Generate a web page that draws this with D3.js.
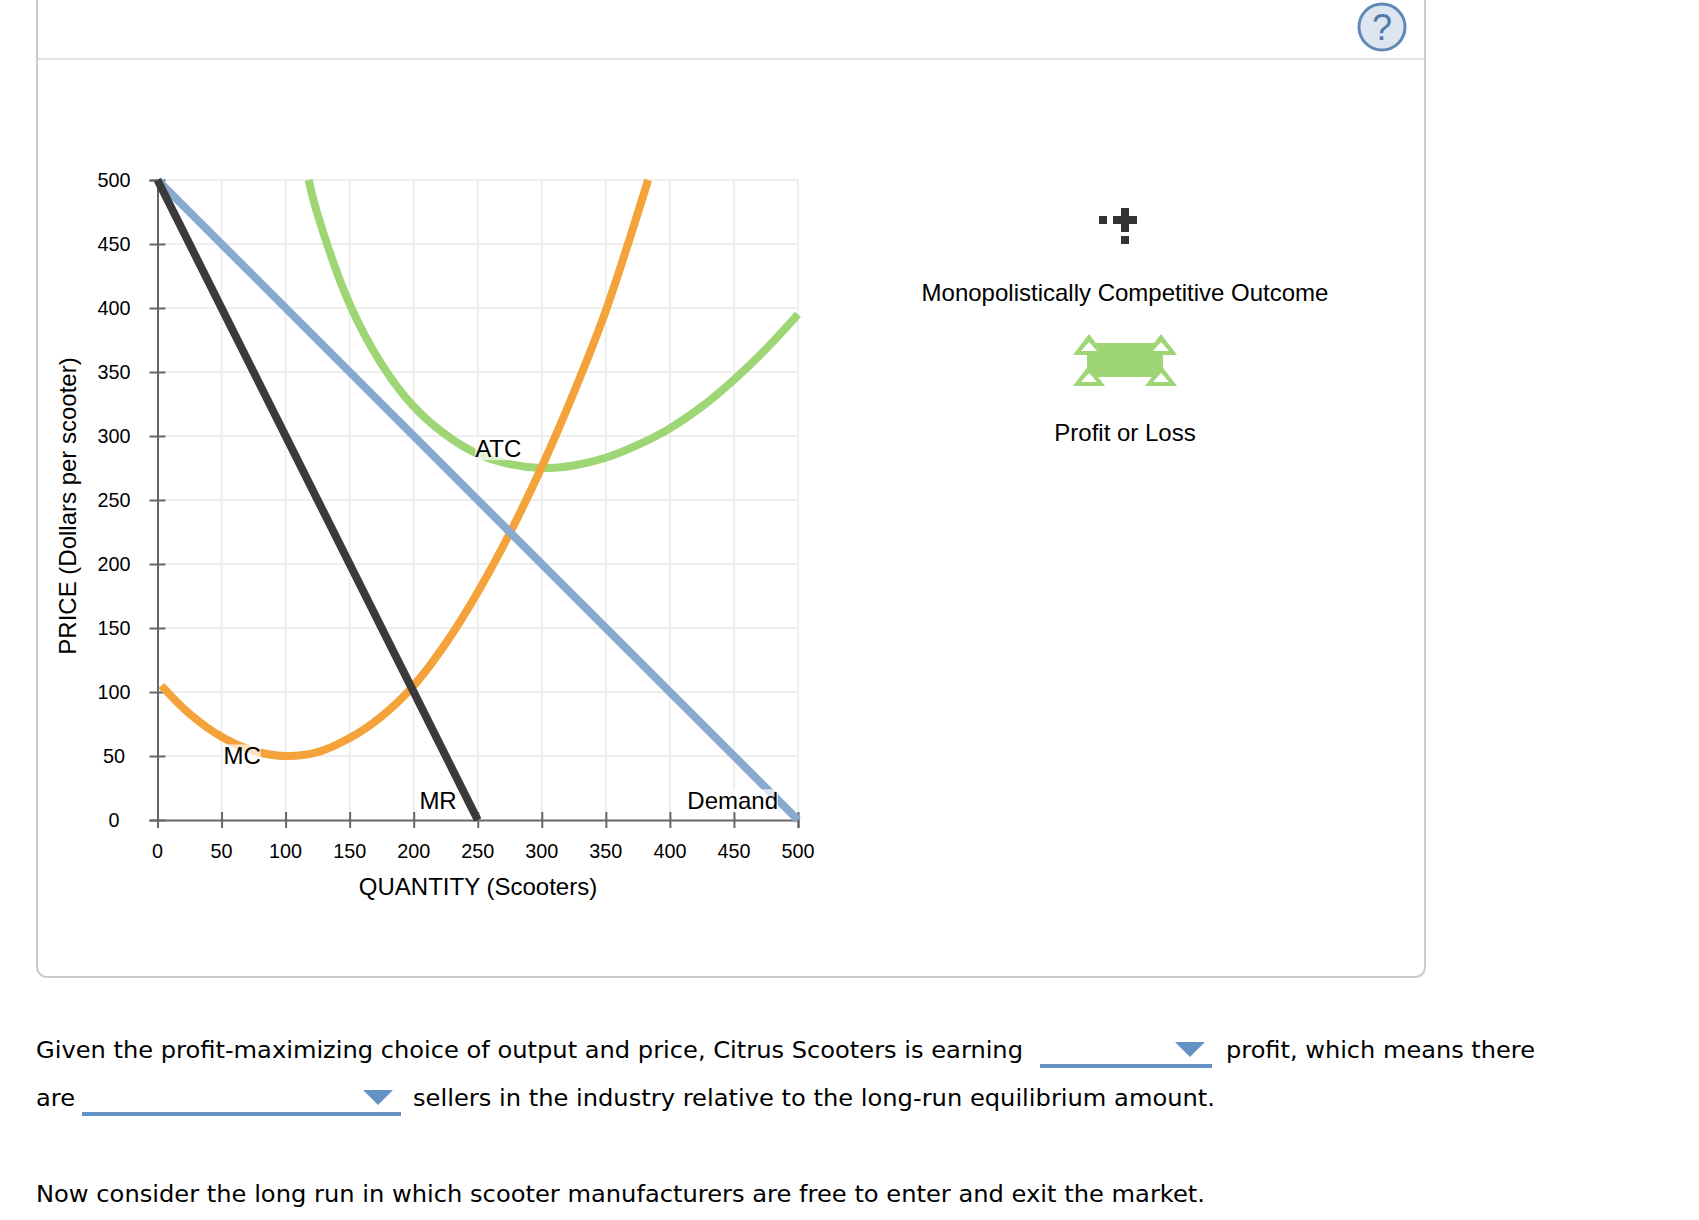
<!DOCTYPE html>
<html>
<head>
<meta charset="utf-8">
<script src="https://cdnjs.cloudflare.com/ajax/libs/d3/7.8.5/d3.min.js"></script>
<style>
  html, body { margin: 0; padding: 0; background: #fff; }
  svg { display: block; }
  text { font-family: "Liberation Sans", Arial, sans-serif; fill: #000; }
  .body-text { font-family: "DejaVu Sans", Verdana, sans-serif; font-size: 23.5px; }
</style>
</head>
<body>
<svg id="chart" width="1699" height="1220"></svg>
<script>
// ------------chart values----------
const ticks = [0, 50, 100, 150, 200, 250, 300, 350, 400, 450, 500];

const demandQ = [0, 500];
const demandP = [500, 0];

const mrQ = [0, 250];
const mrP = [500, 0];

const mcQ = [3, 25, 50, 75, 100, 125, 150, 175, 200, 225, 250, 275, 300, 325, 350, 383];
const mcP = [105, 83, 65, 54, 50, 53, 64, 81, 105, 138, 178, 224, 276, 334, 398, 500];

const atcQ = [118, 125, 150, 175, 200, 225, 250, 275, 300, 325, 350, 375, 400, 425, 450, 475, 500];
const atcP = [500, 473, 403, 356, 323, 301, 286, 278, 275, 277, 283, 293, 306, 323, 344, 368, 395];

const curveLabels = ["ATC", "MC", "MR", "Demand"];
const labelQ = [266, 66, 219, 449];
const labelP = [290, 50, 15, 15];

const legendLabels = ["Monopolistically Competitive Outcome", "Profit or Loss"];

const svg = d3.select("#chart");

// ------------panel----------
svg.append("rect")
  .attr("x", 37).attr("y", -12)
  .attr("width", 1388).attr("height", 989)
  .attr("rx", 10)
  .attr("fill", "#fff").attr("stroke", "#cccccc").attr("stroke-width", 2);

svg.append("line")
  .attr("x1", 38).attr("x2", 1424)
  .attr("y1", 59).attr("y2", 59)
  .attr("stroke", "#e2e2e2").attr("stroke-width", 2);

// ------------help icon----------
svg.append("circle")
  .attr("cx", 1382).attr("cy", 27).attr("r", 23)
  .attr("fill", "#dde6ef").attr("stroke", "#5f8ab8").attr("stroke-width", 3);

svg.append("text")
  .attr("x", 1382).attr("y", 40)
  .attr("text-anchor", "middle")
  .style("font-size", "36px")
  .style("fill", "#5078a8")
  .text("?");

// ------------scales and grid----------
const x = d3.scaleLinear().domain([0, 500]).range([157.5, 798]);
const y = d3.scaleLinear().domain([0, 500]).range([820, 180]);

const grid = svg.append("g").attr("stroke", "#eeeeee").attr("stroke-width", 2);

grid.selectAll(".v")
  .data(ticks.slice(1))
  .join("line")
  .attr("x1", d => x(d)).attr("x2", d => x(d))
  .attr("y1", y(500)).attr("y2", y(0));

grid.selectAll(".h")
  .data(ticks.slice(1))
  .join("line")
  .attr("x1", x(0)).attr("x2", x(500))
  .attr("y1", d => y(d)).attr("y2", d => y(d));

// ------------axes----------
const xAxis = svg.append("g")
  .attr("transform", `translate(0,${y(0)})`)
  .call(d3.axisBottom(x).tickValues(ticks).tickSize(8).tickPadding(20).tickFormat(d3.format("d")));

const yAxis = svg.append("g")
  .attr("transform", `translate(${x(0)},0)`)
  .call(d3.axisLeft(y).tickValues(ticks).tickSize(8).tickPadding(20).tickFormat(d3.format("d")));

[xAxis, yAxis].forEach(a => {
  a.selectAll("path").attr("stroke", "#666").attr("stroke-width", 2);
  a.selectAll("line").attr("stroke", "#666").attr("stroke-width", 2);
  a.selectAll("text").style("font-size", "19.8px").style("font-family", "Liberation Sans").attr("fill", "#000");
});

// ticks cross the axis line
xAxis.selectAll(".tick line").attr("y1", -8);
yAxis.selectAll(".tick line").attr("x1", 8);

// y labels are centered in their column
yAxis.selectAll(".tick text").attr("text-anchor", "middle").attr("x", 114 - x(0));
xAxis.selectAll(".tick text").attr("y", 24).attr("x", -0.5);

svg.append("text")
  .attr("x", 478).attr("y", 895)
  .attr("text-anchor", "middle")
  .style("font-size", "24px")
  .text("QUANTITY (Scooters)");

svg.append("text")
  .attr("transform", "translate(76,506) rotate(-90)")
  .attr("text-anchor", "middle")
  .style("font-size", "24px")
  .text("PRICE (Dollars per scooter)");

// ------------curves----------
const series = [
  { q: atcQ, p: atcP, color: "#9ed676", curve: d3.curveCatmullRom },
  { q: mcQ, p: mcP, color: "#f4a23a", curve: d3.curveCatmullRom },
  { q: demandQ, p: demandP, color: "#8aa9cf", curve: d3.curveLinear },
  { q: mrQ, p: mrP, color: "#3a3a3a", curve: d3.curveLinear }
];

series.forEach(s => {
  const line = d3.line().x(i => x(s.q[i])).y(i => y(s.p[i])).curve(s.curve);
  svg.append("path")
    .attr("d", line(d3.range(s.q.length)))
    .attr("fill", "none")
    .attr("stroke", s.color)
    .attr("stroke-width", 8);
});

// ------------curve labels----------
curveLabels.forEach((name, i) => {
  const g = svg.append("g").attr("transform", `translate(${x(labelQ[i])},${y(labelP[i])})`);
  const t = g.append("text")
    .attr("text-anchor", "middle")
    .attr("dy", "0.35em")
    .style("font-size", "24px")
    .text(name);
  const b = t.node().getBBox();
  g.insert("rect", "text")
    .attr("x", b.x).attr("y", b.y + 2)
    .attr("width", b.width).attr("height", b.height - 4)
    .attr("fill", "#fff").attr("opacity", 0.7);
});

// ------------legend----------
const plus = svg.append("g").attr("transform", "translate(1125,220)").attr("fill", "#333");
plus.append("rect").attr("x", -4).attr("y", -12).attr("width", 8).attr("height", 24);
plus.append("rect").attr("x", -12).attr("y", -4).attr("width", 24).attr("height", 8);
plus.append("rect").attr("x", -26).attr("y", -4).attr("width", 8).attr("height", 8);
plus.append("rect").attr("x", -4).attr("y", 16).attr("width", 8).attr("height", 8);

svg.append("text")
  .attr("x", 1125).attr("y", 301)
  .attr("text-anchor", "middle")
  .style("font-size", "24px")
  .text(legendLabels[0]);

const area = svg.append("g").attr("transform", "translate(1125,360)");
area.append("rect")
  .attr("x", -38).attr("y", -17).attr("width", 76).attr("height", 34)
  .attr("fill", "#9ed676");

[[-36, -26], [36, -26], [-36, 5], [36, 5]].forEach(([dx, dy]) => {
  const tri = area.append("g").attr("transform", `translate(${dx},${dy})`);
  tri.append("path").attr("d", "M0,0L16,21L-16,21Z").attr("fill", "#9ed676");
  tri.append("path").attr("d", "M0,8L8,17L-8,17Z").attr("fill", "#fff");
});

svg.append("text")
  .attr("x", 1125).attr("y", 441)
  .attr("text-anchor", "middle")
  .style("font-size", "24px")
  .text(legendLabels[1]);

// ------------question text----------
const sentences = [
  ["Given the profit-maximizing choice of output and price, Citrus Scooters is earning", 36, 1058, 987],
  ["profit, which means there", 1226, 1058, 309],
  ["are", 36, 1106, 39],
  ["sellers in the industry relative to the long-run equilibrium amount.", 413, 1106, 802],
  ["Now consider the long run in which scooter manufacturers are free to enter and exit the market.", 36, 1202, 1169]
];

svg.selectAll(".body-text")
  .data(sentences)
  .join("text")
  .attr("class", "body-text")
  .attr("x", d => d[1])
  .attr("y", d => d[2])
  .attr("textLength", d => d[3])
  .attr("lengthAdjust", "spacingAndGlyphs")
  .text(d => d[0]);

[[1040, 1212, 1066, 1190], [82, 401, 1114, 378]].forEach(([x1, x2, ly, cx]) => {
  svg.append("line")
    .attr("x1", x1).attr("x2", x2)
    .attr("y1", ly).attr("y2", ly)
    .attr("stroke", "#6492c4").attr("stroke-width", 4);
  svg.append("path")
    .attr("d", `M${cx - 15},${ly - 24}L${cx + 15},${ly - 24}L${cx},${ly - 9}Z`)
    .attr("fill", "#6492c4");
});
</script>
</body>
</html>
